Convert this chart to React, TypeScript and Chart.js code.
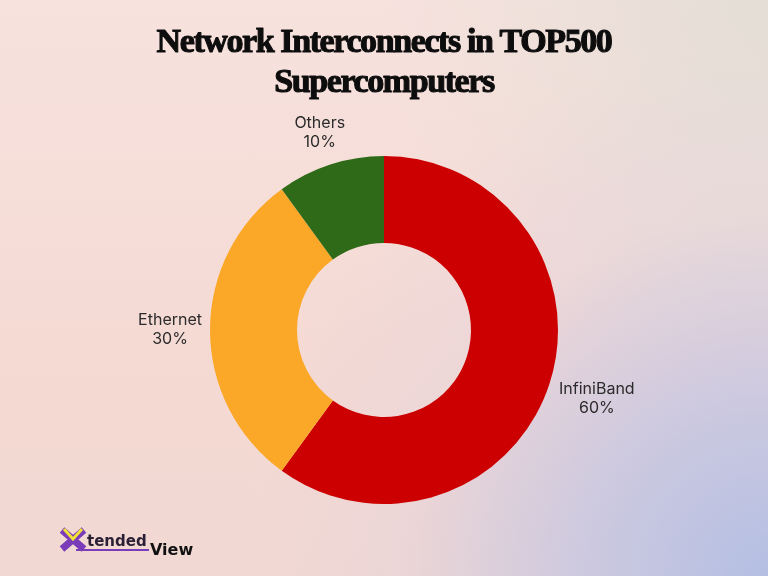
import React, { useEffect, useRef } from "react";
import { Chart, registerables } from "chart.js";

Chart.register(...registerables);

const categories = ["InfiniBand", "Ethernet", "Others"];
const shares = [60, 30, 10];
const sliceColors = ["#cc0000", "#fba828", "#2e6a17"];
const titleLines = ["Network Interconnects in TOP500", "Supercomputers"];

const outsideLabels = {
  id: "outsideLabels",
  afterDatasetsDraw(chart: any) {
    const ctx = chart.ctx;
    const meta = chart.getDatasetMeta(0);
    const lh = 19;
    ctx.save();
    ctx.font = "16px Inter";
    ctx.fillStyle = "#2b2b2b";
    ctx.textAlign = "center";
    ctx.textBaseline = "middle";
    meta.data.forEach((arc: any, i: number) => {
      const p = arc.getProps(["x", "y", "startAngle", "endAngle", "outerRadius"], true);
      const mid = (p.startAngle + p.endAngle) / 2;
      const c = Math.cos(mid);
      const s = Math.sin(mid);
      const lines = [String(chart.data.labels[i]), chart.data.datasets[0].data[i] + "%"];
      const w = Math.max(...lines.map((t) => ctx.measureText(t).width));
      const h = lines.length * lh;
      const d = p.outerRadius + 8 + Math.abs(c) * w / 2 + Math.abs(s) * h / 2;
      const cx = p.x + c * d;
      const cy = p.y + s * d;
      lines.forEach((t, k) => {
        ctx.fillText(t, cx, cy - h / 2 + lh / 2 + k * lh);
      });
    });
    ctx.restore();
  },
};

const titleAndLogo = {
  id: "titleAndLogo",
  afterDraw(chart: any) {
    const ctx = chart.ctx;
    ctx.save();
    ctx.fillStyle = "#0d0d0d";
    ctx.strokeStyle = "#0d0d0d";
    ctx.lineWidth = 1.1;
    ctx.lineJoin = "round";
    ctx.textAlign = "center";
    ctx.textBaseline = "alphabetic";
    ctx.font = "bold 34px 'Liberation Serif'";
    (ctx as any).letterSpacing = "-1.4px";
    titleLines.forEach((t, k) => {
      ctx.fillText(t, 384, 52 + k * 40);
      ctx.strokeText(t, 384, 52 + k * 40);
    });
    (ctx as any).letterSpacing = "0px";

    // logo mark
    ctx.lineCap = "butt";
    ctx.lineJoin = "miter";
    ctx.strokeStyle = "#7a3cb8";
    ctx.lineWidth = 7;
    ctx.beginPath();
    ctx.moveTo(62, 530);
    ctx.lineTo(84, 549);
    ctx.moveTo(84, 530);
    ctx.lineTo(62, 549);
    ctx.stroke();
    ctx.strokeStyle = "#f0e03a";
    ctx.lineWidth = 3;
    ctx.beginPath();
    ctx.moveTo(64, 529);
    ctx.lineTo(73, 539);
    ctx.lineTo(82, 529);
    ctx.stroke();
    ctx.strokeStyle = "#7a3cb8";
    ctx.lineWidth = 2;
    ctx.beginPath();
    ctx.moveTo(76, 550);
    ctx.lineTo(149, 550);
    ctx.stroke();

    ctx.textAlign = "left";
    ctx.font = "bold 15px 'DejaVu Sans'";
    ctx.fillStyle = "#2a1f35";
    ctx.fillText("tended", 87, 546);
    ctx.fillStyle = "#111111";
    ctx.font = "bold 16px 'DejaVu Sans'";
    ctx.fillText("View", 150, 555);
    ctx.restore();
  },
};

export default function App() {
  const ref = useRef<HTMLCanvasElement>(null);
  useEffect(() => {
    if (!ref.current) return;
    const chart = new Chart(ref.current, {
      type: "doughnut",
      data: {
        labels: categories,
        datasets: [
          {
            data: shares,
            backgroundColor: sliceColors,
            borderWidth: 0,
            hoverOffset: 0,
          },
        ],
      },
      options: {
        animation: false,
        responsive: false,
        cutout: "50%",
        layout: { padding: { top: 156, bottom: 72, left: 210, right: 210 } },
        plugins: {
          legend: { display: false },
          tooltip: { enabled: false },
          title: { display: false },
        },
      },
      plugins: [outsideLabels, titleAndLogo],
    });
    return () => chart.destroy();
  }, []);
  return (
    <div
      style={{
        position: "absolute",
        left: 0,
        top: 0,
        width: 768,
        height: 576,
        background:
          "radial-gradient(circle at 100% 100%, rgba(180,191,227,1) 0%, rgba(190,195,228,0.75) 18%, rgba(215,205,225,0.25) 38%, rgba(230,215,225,0) 55%), radial-gradient(circle at 100% 0%, rgba(228,222,214,1) 0%, rgba(228,222,214,0) 40%), linear-gradient(180deg, #f7e2de 0%, #f5dad4 60%, #f2d8d2 100%)",
      }}
    >
      <canvas ref={ref} width={768} height={576} />
    </div>
  );
}
